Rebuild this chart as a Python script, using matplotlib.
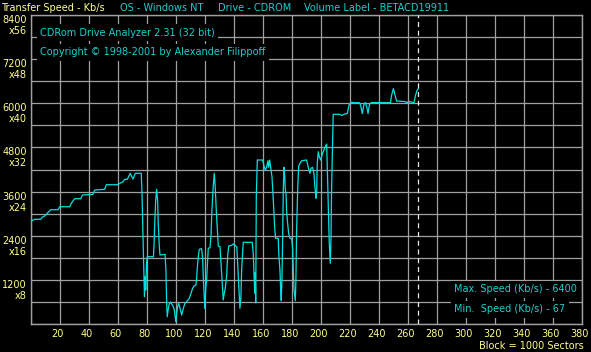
import matplotlib
matplotlib.use("Agg")
import matplotlib.pyplot as plt

# transfer speed trace (block in 1000 sectors, Kb/s)
blocks = [0, 1.6, 2.8, 6.9, 7.8, 9.6, 10.8, 12.4, 13.8, 18.8,
          20.0, 26.9, 28.0, 30.3, 34.5, 35.6, 42.9, 44.1, 51.0, 52.1,
          59.7, 63.6, 64.8, 66.6, 68.6, 70.5, 72.1, 76.2, 76.7, 77.4,
          78.1, 78.4, 79.0, 79.3, 79.9, 80.4, 84.6, 85.0, 85.5, 86.1,
          86.8, 87.5, 87.9, 88.6, 89.1, 92.6, 93.2, 93.7, 94.1, 94.8,
          95.5, 96.5, 97.2, 98.3, 99.0, 99.7, 100.1, 100.6, 101.3, 102.0,
          102.9, 104.1, 105.2, 106.3, 107.5, 109.3, 110.5, 111.6, 112.5, 113.9,
          114.4, 114.8, 115.5, 116.2, 117.8, 118.5, 119.0, 119.6, 120.1, 120.6,
          121.3, 122.0, 122.4, 123.6, 124.3, 124.9, 125.8, 126.5, 127.2, 127.9,
          128.9, 129.3, 130.5, 130.9, 131.6, 132.3, 132.7, 133.4, 134.1, 135.1,
          135.8, 136.5, 138.5, 139.6, 140.8, 142.0, 142.4, 143.1, 143.8, 144.2,
          144.9, 145.4, 146.1, 146.5, 152.7, 153.4, 153.9, 154.4, 154.8, 155.1,
          155.5, 156.2, 159.9, 160.8, 161.7, 162.6, 163.5, 164.0, 164.7, 165.4,
          166.3, 166.8, 167.5, 168.2, 168.8, 170.6, 171.1, 171.8, 172.3, 172.7,
          173.2, 173.7, 174.1, 174.6, 175.1, 175.5, 176.0, 176.4, 177.1, 177.8,
          178.7, 179.9, 180.6, 181.0, 181.5, 182.4, 182.8, 183.3, 184.0, 184.7,
          185.6, 186.8, 190.2, 191.3, 192.5, 193.2, 194.3, 195.2, 195.9, 196.6,
          197.1, 197.5, 198.2, 198.9, 199.9, 200.6, 201.2, 202.1, 203.0, 204.0,
          204.4, 205.1, 205.8, 206.5, 207.0, 207.4, 208.1, 208.5, 213.2, 214.3,
          215.9, 218.3, 219.4, 221.2, 223.5, 226.5, 227.4, 228.5, 229.7, 230.7,
          231.6, 232.5, 233.5, 234.9, 248.0, 248.8, 250.0, 251.1, 252.2, 258.0,
          259.1, 260.4, 264.2, 265.3, 266.4, 267.3]
speeds = [2780, 2827, 2846, 2846, 2900, 2935, 2982, 3052, 3107, 3107,
          3188, 3188, 3281, 3406, 3406, 3506, 3525, 3642, 3661, 3786,
          3786, 3868, 3933, 3933, 4096, 3941, 4096, 4096, 3552, 2419,
          1286, 742, 1286, 924, 1693, 1829, 1829, 2147, 2737, 3324,
          3661, 3324, 2737, 2147, 1875, 1894, 1468, 606, 198, 400,
          544, 598, 544, 470, 381, 155, 67, 291, 470, 563,
          427, 245, 427, 563, 606, 699, 834, 970, 1033, 1060,
          1242, 1514, 1829, 2030, 2047, 1786, 1242, 742, 427, 924,
          1242, 1740, 2058, 2074, 2419, 3099, 3732, 4096, 3732, 3099,
          2419, 2120, 2101, 1829, 1332, 834, 652, 834, 970, 1332,
          1875, 2120, 2139, 2174, 2139, 2101, 1848, 1286, 742, 427,
          742, 1468, 1922, 2221, 2221, 1922, 1394, 834, 1394, 579,
          3460, 4458, 4458, 4294, 4186, 4259, 4438, 4259, 4458, 4259,
          4004, 3688, 3145, 2601, 2329, 2329, 1829, 1468, 924, 633,
          1242, 2465, 3642, 4259, 4004, 3642, 3552, 3052, 2737, 2465,
          2329, 2329, 2011, 1468, 924, 633, 1215, 2555, 3642, 4294,
          4368, 4438, 4458, 4259, 4096, 4232, 4259, 4096, 3732, 3416,
          3552, 4349, 4683, 4547, 4458, 4566, 4640, 4729, 4819, 4892,
          4321, 3234, 2193, 1650, 2329, 3688, 5020, 5700, 5700, 5667,
          5700, 5727, 5952, 6026, 6015, 6015, 5952, 5721, 5966, 6020,
          5906, 5721, 5966, 6020, 6020, 6224, 6400, 6224, 6061, 6047,
          6020, 6047, 6020, 6224, 6360, 6400]

disc_end = 267.3
x_ticks = list(range(20, 400, 20))
y_ticks = list(range(1200, 9600, 1200))
max_speed = 6400
min_speed = 67

W, H = 591, 352
CYAN = "#1ccfcf"
LINE = "#00e0e0"
YELLOW = "#ffff88"
GRID = "#a0a0a0"
FS = 7

plt.rcParams["font.family"] = ["DejaVu Sans"]

fig = plt.figure(figsize=(W / 100, H / 100), dpi=100, facecolor="black")
ax = fig.add_axes([30.7 / W, (H - 324) / H, (582 - 30.7) / W, (324 - 15) / H])
ax.set_facecolor("black")
ax.set_xlim(0, 380)
ax.set_ylim(0, 8400)
ax.set_xticks(range(0, 381, 20))
ax.set_yticks(range(0, 8401, 600))
ax.tick_params(length=0, labelbottom=False, labelleft=False)
ax.grid(True, color=GRID, lw=0.9)
for s in ax.spines.values():
    s.set_color(GRID)
    s.set_linewidth(1.0)

ax.plot(blocks, speeds, color=LINE, lw=0.9, zorder=3)
ax.axvline(disc_end, color="#e8e8e8", lw=0.9, ls=(0, (4, 3)), zorder=4)


def px(x, y):
    return x / W, 1 - y / H


# y labels: value and CD speed multiplier, hanging just below each line
for v in y_ticks:
    ax.annotate(str(v), xy=(0, v), xycoords=("axes fraction", "data"),
                xytext=(-4, -8), textcoords="offset pixels",
                ha="right", va="baseline", color=YELLOW, fontsize=FS)
    ax.annotate("x%d" % (v // 150), xy=(0, v), xycoords=("axes fraction", "data"),
                xytext=(-4, -19), textcoords="offset pixels",
                ha="right", va="baseline", color=YELLOW, fontsize=FS)

for b in x_ticks:
    ax.annotate(str(b), xy=(b, 0), xycoords=("data", "axes fraction"),
                xytext=(-2, -13), textcoords="offset pixels",
                ha="center", va="baseline", color=YELLOW, fontsize=FS)

# header
fig.text(*px(1, 10.7), "Transfer Speed - Kb/s", color=YELLOW, fontsize=FS, va="baseline")
fig.text(*px(120.5, 10.7), "OS - Windows NT", color=CYAN, fontsize=FS, va="baseline")
fig.text(*px(218, 10.7), "Drive - CDROM", color=CYAN, fontsize=FS, va="baseline")
fig.text(*px(304, 10.7), "Volume Label - BETACD19911", color=CYAN, fontsize=FS, va="baseline")

box = dict(facecolor="black", edgecolor="none", pad=2.5)
fig.text(*px(40, 35.5), "CDRom Drive Analyzer 2.31 (32 bit)", color=CYAN,
         fontsize=FS, va="baseline", bbox=box, zorder=5)
fig.text(*px(40.5, 55.3), "Copyright \u00a9 1998-2001 by Alexander Filippoff", color=CYAN,
         fontsize=FS, va="baseline", bbox=box, zorder=5)
fig.text(*px(454, 292.5), "Max. Speed (Kb/s) - %d" % max_speed, color=CYAN,
         fontsize=FS, va="baseline", bbox=box, zorder=5)
fig.text(*px(454, 312.3), "Min.  Speed (Kb/s) - %d" % min_speed, color=CYAN,
         fontsize=FS, va="baseline", bbox=box, zorder=5)

fig.text(*px(584, 349), "Block = 1000 Sectors", color=YELLOW, fontsize=FS,
         ha="right", va="baseline")

fig.savefig("out.png", dpi=100, facecolor="black")
